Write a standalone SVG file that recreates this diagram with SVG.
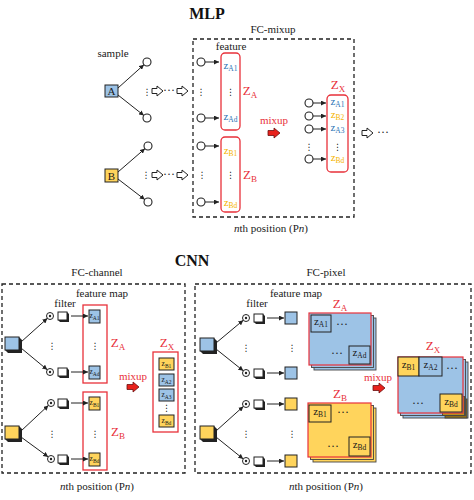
<svg xmlns="http://www.w3.org/2000/svg" xmlns:xlink="http://www.w3.org/1999/xlink" width="474" height="500" viewBox="0 0 474 500">
<style>
.t{font-family:"Liberation Serif",serif;font-size:11px;fill:#1a1a1a;text-anchor:middle}
.ti{font-family:"Liberation Serif",serif;font-size:16px;font-weight:bold;fill:#111;text-anchor:middle}
.z{font-family:"Liberation Serif",serif;font-size:11px;text-anchor:middle}
.zs{font-size:7.5px}
.zb{font-family:"Liberation Serif",serif;font-size:7.5px;fill:#1a1a1a;text-anchor:middle}
.zbs{font-size:5.5px}
.zr{font-family:"Liberation Serif",serif;font-size:13px;fill:#e8313a;text-anchor:middle}
.zrs{font-size:9px}
.red{fill:#e8313a}
.blue{fill:#2e75b6}
.org{fill:#f5b400}
.dk{fill:#1a1a1a}
.vd{font-family:"DejaVu Sans",sans-serif;font-size:9px;fill:#222;text-anchor:middle}
.hd{font-family:"Liberation Serif",serif;font-size:12px;fill:#222;text-anchor:middle}
.dash{fill:none;stroke:#222;stroke-width:1.3;stroke-dasharray:4,3}
.circ{fill:#fff;stroke:#222;stroke-width:1.1}
.rbox{fill:#fff;stroke:#e8313a;stroke-width:1.3}
.rline{fill:none;stroke:#e8313a;stroke-width:1.3}
.bl{fill:#9dc3e6;stroke:#222;stroke-width:1}
.yl{fill:#ffd45c;stroke:#222;stroke-width:1}
.blr{fill:#9dc3e6;stroke:#e8313a;stroke-width:1.2}
.ylr{fill:#ffd45c;stroke:#e8313a;stroke-width:1.2}
.blb{fill:#9dc3e6;stroke:#444;stroke-width:0.9}
.ylb{fill:#ffd45c;stroke:#444;stroke-width:0.9}
.con{fill:none;stroke:#222;stroke-width:1}
</style>
<defs>
<marker id="ah" viewBox="0 0 6 6" refX="6" refY="3" markerWidth="5" markerHeight="5" markerUnits="userSpaceOnUse" orient="auto">
<path d="M0,0 L6,3 L0,6 Z" fill="#222"/>
</marker>
<path id="hollow" d="M0,-2.5 H5 V-5 L11,0 L5,5 V2.5 H0 Z" fill="#fff" stroke="#222" stroke-width="1"/>
<path id="redarr" d="M0,-2.5 H6 V-5 L12,0 L6,5 V2.5 H0 Z" fill="#e8221c" stroke="#6a1010" stroke-width="0.8"/>
<g id="odot"><circle r="3.5" fill="#fff" stroke="#222" stroke-width="1"/><circle r="1.2" fill="#222"/></g>
<g id="wcube"><polygon points="0,0 9,0 11,2 11,10 2,10 0,8" fill="#222"/><rect width="9" height="8" fill="#fff" stroke="#222" stroke-width="1"/></g>
<polygon id="cubesh" points="0,0 14,0 17,3 17,16 3,16 0,13" fill="#222"/>
</defs>

<!-- ============ MLP ============ -->
<text class="ti" x="207" y="19">MLP</text>
<text class="t" x="273" y="33">FC-mixup</text>
<rect class="dash" x="193" y="39" width="161" height="178"/>
<text class="t" x="271" y="232"><tspan font-style="italic">n</tspan>th position (P<tspan font-style="italic">n</tspan>)</text>
<text class="t" x="113" y="57">sample</text>
<text class="t" x="231" y="50">feature</text>

<g id="mlp-A">
<rect class="bl" x="105" y="85" width="13" height="12"/>
<text class="t" x="111.5" y="95" font-size="10">A</text>
<circle class="circ" cx="147" cy="62" r="4"/>
<circle class="circ" cx="147" cy="118" r="4"/>
<text class="vd" x="147" y="95">⋮</text>
<use href="#hollow" x="152" y="91"/>
<text class="hd" x="169" y="94">···</text>
<use href="#hollow" x="177" y="91"/>
</g>

<g id="mlp-B">
<rect class="yl" x="105" y="169" width="13" height="13"/>
<text class="t" x="111.5" y="179.5" font-size="10">B</text>
<circle class="circ" cx="148" cy="146" r="4"/>
<circle class="circ" cx="148" cy="202" r="4"/>
<text class="vd" x="146" y="178">⋮</text>
<use href="#hollow" x="152" y="175"/>
<text class="hd" x="169" y="178">···</text>
<use href="#hollow" x="177" y="175"/>
</g>

<g id="mlp-ZA">
<circle class="circ" cx="201" cy="62" r="4"/>
<circle class="circ" cx="201" cy="118" r="4"/>
<text class="vd" x="201" y="95">⋮</text>
<rect class="rbox" x="221" y="53" width="19" height="77" rx="4"/>
<text class="z blue" x="230.5" y="69">z<tspan class="zs" dy="2">A1</tspan></text>
<text class="vd" x="230.5" y="95">⋮</text>
<text class="z blue" x="230.5" y="120">z<tspan class="zs" dy="2">Ad</tspan></text>
<text class="zr" x="250" y="95">Z<tspan class="zrs" dy="3">A</tspan></text>
</g>

<g id="mlp-ZB">
<circle class="circ" cx="201" cy="146" r="4"/>
<circle class="circ" cx="201" cy="202" r="4"/>
<text class="vd" x="202" y="178">⋮</text>
<rect class="rbox" x="221" y="137" width="19" height="75" rx="4"/>
<text class="z org" x="230.5" y="154">z<tspan class="zs" dy="2">B1</tspan></text>
<text class="vd" x="230.5" y="178">⋮</text>
<text class="z org" x="230.5" y="206">z<tspan class="zs" dy="2">Bd</tspan></text>
<text class="zr" x="250" y="179">Z<tspan class="zrs" dy="3">B</tspan></text>
</g>

<g id="mlp-mixup">
<text class="t red" x="274" y="124" style="fill:#e8313a">mixup</text>
<use href="#redarr" x="268" y="133"/>
</g>

<g id="mlp-ZX">
<text class="zr" x="338" y="89">Z<tspan class="zrs" dy="3">X</tspan></text>
<circle class="circ" cx="309" cy="103" r="4"/>
<circle class="circ" cx="309" cy="116" r="4"/>
<circle class="circ" cx="309" cy="129" r="4"/>
<text class="vd" x="309" y="150">⋮</text>
<circle class="circ" cx="309" cy="159" r="4"/>
<rect class="rbox" x="327" y="95" width="21" height="77" rx="4"/>
<text class="z blue" x="337.5" y="105">z<tspan class="zs" dy="2">A1</tspan></text>
<text class="z org" x="337.5" y="118">z<tspan class="zs" dy="2">B2</tspan></text>
<text class="z blue" x="337.5" y="131">z<tspan class="zs" dy="2">A3</tspan></text>
<text class="vd" x="337.5" y="150">⋮</text>
<text class="z org" x="337.5" y="161">z<tspan class="zs" dy="2">Bd</tspan></text>
<use href="#hollow" x="362" y="133"/>
<text class="hd" x="383" y="136">···</text>
</g>

<!-- ============ CNN ============ -->
<text class="ti" x="192" y="266">CNN</text>
<text class="t" x="97" y="276">FC-channel</text>
<text class="t" x="326" y="276">FC-pixel</text>
<rect class="dash" x="2" y="284" width="183" height="189"/>
<rect class="dash" x="195" y="284" width="276" height="189"/>
<text class="t" x="97" y="490"><tspan font-style="italic">n</tspan>th position (P<tspan font-style="italic">n</tspan>)</text>
<text class="t" x="326" y="490"><tspan font-style="italic">n</tspan>th position (P<tspan font-style="italic">n</tspan>)</text>
<text class="t" x="102" y="297">feature map</text>
<text class="t" x="65" y="307">filter</text>
<text class="t" x="296" y="297">feature map</text>
<text class="t" x="257" y="307">filter</text>

<!-- FC-channel A -->
<g id="ch-A">
<use href="#cubesh" x="5" y="337"/>
<rect class="bl" x="5" y="337" width="14" height="13"/>
<use href="#odot" x="50" y="316"/>
<use href="#odot" x="50" y="372"/>
<use href="#wcube" x="58" y="312"/>
<use href="#wcube" x="58" y="368"/>
<text class="vd" x="52" y="349">⋮</text>
</g>
<g id="ch-ZA">
<rect class="rline" x="83" y="305" width="24" height="78"/>
<rect class="bl" x="89" y="310" width="11" height="13"/>
<text class="zb" x="94.5" y="318">z<tspan class="zbs" dy="1.5">A1</tspan></text>
<text class="vd" x="95" y="349">⋮</text>
<rect class="bl" x="89" y="366" width="11" height="13"/>
<text class="zb" x="94.5" y="374">z<tspan class="zbs" dy="1.5">Ad</tspan></text>
<text class="zr" x="118" y="347">Z<tspan class="zrs" dy="3">A</tspan></text>
</g>
<g id="ch-B">
<use href="#cubesh" x="5" y="426"/>
<rect class="yl" x="5" y="426" width="14" height="13"/>
<use href="#odot" x="51" y="403"/>
<use href="#odot" x="51" y="459"/>
<use href="#wcube" x="58" y="399"/>
<use href="#wcube" x="58" y="455"/>
<text class="vd" x="52" y="437">⋮</text>
</g>
<g id="ch-ZB">
<rect class="rline" x="83" y="392" width="24" height="78"/>
<rect class="yl" x="89" y="397" width="11" height="13"/>
<text class="zb" x="94.5" y="405">z<tspan class="zbs" dy="1.5">B1</tspan></text>
<text class="vd" x="95" y="437">⋮</text>
<rect class="yl" x="89" y="453" width="11" height="13"/>
<text class="zb" x="94.5" y="461">z<tspan class="zbs" dy="1.5">Bd</tspan></text>
<text class="zr" x="118" y="436">Z<tspan class="zrs" dy="3">B</tspan></text>
</g>
<g id="ch-mixup">
<text class="t" x="133" y="380" style="fill:#e8313a">mixup</text>
<use href="#redarr" x="127" y="387"/>
</g>
<g id="ch-ZX">
<text class="zr" x="167" y="347">Z<tspan class="zrs" dy="3">X</tspan></text>
<rect class="rline" x="153" y="352" width="25" height="80"/>
<rect class="yl" x="159" y="358" width="15" height="12"/>
<text class="zb" x="166.5" y="366">z<tspan class="zbs" dy="1.5">B1</tspan></text>
<rect class="bl" x="159" y="374" width="15" height="12"/>
<text class="zb" x="166.5" y="382">z<tspan class="zbs" dy="1.5">A2</tspan></text>
<rect class="bl" x="159" y="389" width="15" height="12"/>
<text class="zb" x="166.5" y="397">z<tspan class="zbs" dy="1.5">A3</tspan></text>
<text class="vd" x="166.5" y="411">⋮</text>
<rect class="yl" x="159" y="415" width="15" height="12"/>
<text class="zb" x="166.5" y="423">z<tspan class="zbs" dy="1.5">Bd</tspan></text>
</g>

<!-- FC-pixel A -->
<g id="px-A">
<use href="#cubesh" x="200" y="338"/>
<rect class="bl" x="200" y="338" width="14" height="13"/>
<use href="#odot" x="246" y="318"/>
<use href="#odot" x="246" y="373"/>
<use href="#wcube" x="254" y="314"/>
<use href="#wcube" x="254" y="369"/>
<rect class="bl" x="285" y="312" width="12" height="12"/>
<rect class="bl" x="285" y="367" width="12" height="12"/>
<text class="vd" x="246" y="351">⋮</text>
<text class="vd" x="292" y="351">⋮</text>
</g>
<g id="px-ZA">
<rect class="blb" x="314" y="318" width="62" height="52"/>
<rect class="blb" x="311.5" y="315.5" width="62" height="52"/>
<rect class="blr" x="309" y="313" width="62" height="52"/>
<rect class="bl" x="311" y="315" width="20" height="17"/>
<text class="z dk" x="321" y="325">z<tspan class="zs" dy="2">A1</tspan></text>
<text class="hd" x="342" y="328">···</text>
<text class="hd" x="337" y="357">···</text>
<rect class="bl" x="349" y="346" width="21" height="18"/>
<text class="z dk" x="359.5" y="356">z<tspan class="zs" dy="2">Ad</tspan></text>
<text class="zr" x="340" y="308">Z<tspan class="zrs" dy="3">A</tspan></text>
</g>
<g id="px-B">
<use href="#cubesh" x="200" y="426"/>
<rect class="yl" x="200" y="426" width="14" height="13"/>
<use href="#odot" x="246" y="404"/>
<use href="#odot" x="246" y="461"/>
<use href="#wcube" x="254" y="400"/>
<use href="#wcube" x="254" y="457"/>
<rect class="yl" x="285" y="398" width="12" height="12"/>
<rect class="yl" x="285" y="455" width="12" height="12"/>
<text class="vd" x="246" y="437">⋮</text>
<text class="vd" x="292" y="437">⋮</text>
</g>
<g id="px-ZB">
<rect class="ylb" x="313" y="408" width="63" height="54"/>
<rect class="ylb" x="310.5" y="405.5" width="63" height="54"/>
<rect class="ylr" x="308" y="403" width="63" height="54"/>
<rect class="yl" x="309" y="405" width="22" height="17"/>
<text class="z dk" x="320" y="415">z<tspan class="zs" dy="2">B1</tspan></text>
<text class="hd" x="343" y="416">···</text>
<text class="hd" x="333" y="450">···</text>
<rect class="yl" x="349" y="437" width="21" height="19"/>
<text class="z dk" x="359.5" y="448">z<tspan class="zs" dy="2">Bd</tspan></text>
<text class="zr" x="340" y="398">Z<tspan class="zrs" dy="3">B</tspan></text>
</g>
<g id="px-mixup">
<text class="t" x="378" y="381" style="fill:#e8313a">mixup</text>
<use href="#redarr" x="373" y="388"/>
</g>
<g id="px-ZX">
<rect class="blb" x="403" y="362" width="65" height="56"/>
<rect class="ylb" x="445" y="399" width="22" height="19" style="fill:#8a6d1a"/>
<rect class="blb" x="400.5" y="359.5" width="65" height="56"/>
<rect class="ylb" x="442.5" y="396.5" width="22" height="19" style="fill:#b8901f"/>
<rect class="blr" x="398" y="357" width="65" height="56"/>
<rect class="yl" x="398" y="357" width="21" height="19"/>
<text class="z dk" x="408.5" y="368">z<tspan class="zs" dy="2">B1</tspan></text>
<rect class="bl" x="419" y="357" width="23" height="19"/>
<text class="z dk" x="430.5" y="368">z<tspan class="zs" dy="2">A2</tspan></text>
<text class="hd" x="452" y="372">···</text>
<text class="hd" x="418" y="407">···</text>
<rect class="yl" x="440" y="394" width="22" height="18"/>
<text class="z dk" x="451" y="405">z<tspan class="zs" dy="2">Bd</tspan></text>
<text class="zr" x="433" y="350">Z<tspan class="zrs" dy="3">X</tspan></text>
</g>

<!-- ============ connectors ============ -->
<g id="connectors" class="con" marker-end="url(#ah)">
<line x1="118" y1="88" x2="144" y2="64.7"/>
<line x1="118" y1="95" x2="143.9" y2="115.5"/>
<line x1="118" y1="172" x2="145" y2="148.6"/>
<line x1="118" y1="179" x2="144.8" y2="199.6"/>
<line x1="205" y1="62" x2="219" y2="62"/>
<line x1="205" y1="118" x2="219" y2="118"/>
<line x1="205" y1="146" x2="219" y2="146"/>
<line x1="205" y1="202" x2="219" y2="202"/>
<line x1="313" y1="103" x2="326" y2="103"/>
<line x1="313" y1="116" x2="326" y2="116"/>
<line x1="313" y1="129" x2="326" y2="129"/>
<line x1="313" y1="159" x2="326" y2="159"/>
<line x1="21" y1="342" x2="47.4" y2="318.3"/>
<line x1="21" y1="348" x2="47.3" y2="369.8"/>
<line x1="21" y1="431" x2="48.4" y2="405.4"/>
<line x1="21" y1="437" x2="48.2" y2="456.9"/>
<line x1="71" y1="316" x2="88" y2="316"/>
<line x1="71" y1="372" x2="88" y2="372"/>
<line x1="71" y1="403" x2="88" y2="403"/>
<line x1="71" y1="459" x2="88" y2="459"/>
<line x1="216" y1="343" x2="243.3" y2="320.2"/>
<line x1="216" y1="349" x2="243.3" y2="370.8"/>
<line x1="216" y1="431" x2="243.4" y2="406.4"/>
<line x1="216" y1="437" x2="243.2" y2="458.9"/>
<line x1="267" y1="318" x2="284" y2="318"/>
<line x1="267" y1="373" x2="284" y2="373"/>
<line x1="267" y1="404" x2="284" y2="404"/>
<line x1="267" y1="461" x2="284" y2="461"/>
</g>
</svg>
